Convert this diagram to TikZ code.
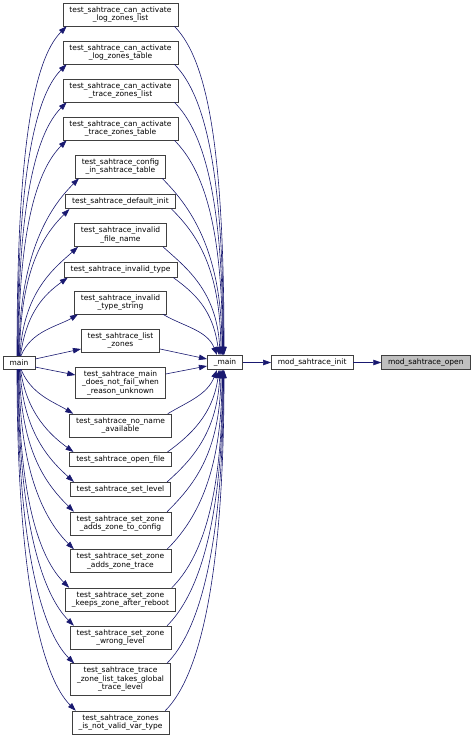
\documentclass[tikz,border=0pt]{standalone}
\usepackage{fontspec}
\setmainfont{DejaVu Sans}
\usetikzlibrary{arrows.meta,positioning}
\definecolor{edgeblue}{RGB}{25,25,112}
\definecolor{hlgray}{RGB}{191,191,191}

\begin{document}
\begin{tikzpicture}[x=1pt, y=1pt,
    fn/.style={draw=black!75, fill=white, line width=0.6pt, font=\fontsize{7.5}{8.5}\selectfont, align=center, inner xsep=6.5pt, inner ysep=3.5pt},
    edge/.style={draw=edgeblue, line width=0.6pt, -{Triangle[length=8pt,width=5.5pt]}}]
        \useasboundingbox (0,0) rectangle (474,-738);

        % Callers
        \node [fn] (main) at (19,-362.5) {main};
        \node [fn] (umain) at (225,-362.5) {\_main};

        % Tests above
        \node [fn] (logl) at (120.5,-14.5) {test\_sahtrace\_can\_activate\\\_log\_zones\_list};
        \node [fn] (logt) at (120.5,-52.5) {test\_sahtrace\_can\_activate\\\_log\_zones\_table};
        \node [fn] (tracel) at (120.5,-90.5) {test\_sahtrace\_can\_activate\\\_trace\_zones\_list};
        \node [fn] (tracet) at (120.5,-128.5) {test\_sahtrace\_can\_activate\\\_trace\_zones\_table};
        \node [fn] (config) at (120.5,-166.5) {test\_sahtrace\_config\\\_in\_sahtrace\_table};
        \node [fn] (definit) at (120.5,-201.5) {test\_sahtrace\_default\_init};
        \node [fn] (filename) at (120.5,-235) {test\_sahtrace\_invalid\\\_file\_name};
        \node [fn] (invtype) at (120.5,-270) {test\_sahtrace\_invalid\_type};
        \node [fn] (typestr) at (120.5,-302.5) {test\_sahtrace\_invalid\\\_type\_string};
        \node [fn] (listz) at (120.5,-340.5) {test\_sahtrace\_list\\\_zones};

        % Tests below
        \node [fn] (notfail) at (120.5,-383) {test\_sahtrace\_main\\\_does\_not\_fail\_when\\\_reason\_unknown};
        \node [fn] (noname) at (120.5,-425.5) {test\_sahtrace\_no\_name\\\_available};
        \node [fn] (openf) at (120.5,-459.5) {test\_sahtrace\_open\_file};
        \node [fn] (setlvl) at (120.5,-489.5) {test\_sahtrace\_set\_level};
        \node [fn] (zconfig) at (120.5,-523.5) {test\_sahtrace\_set\_zone\\\_adds\_zone\_to\_config};
        \node [fn] (ztrace) at (120.5,-561) {test\_sahtrace\_set\_zone\\\_adds\_zone\_trace};
        \node [fn] (reboot) at (120.5,-599.5) {test\_sahtrace\_set\_zone\\\_keeps\_zone\_after\_reboot};
        \node [fn] (wronglvl) at (120.5,-637.5) {test\_sahtrace\_set\_zone\\\_wrong\_level};
        \node [fn] (global) at (120.5,-679.5) {test\_sahtrace\_trace\\\_zone\_list\_takes\_global\\\_trace\_level};
        \node [fn] (vartype) at (120.5,-722.5) {test\_sahtrace\_zones\\\_is\_not\_valid\_var\_type};

        % Callees
        \node [fn, right=28pt of umain] (init) {mod\_sahtrace\_init};
        \node [fn, fill=hlgray, right=28pt of init] (open) {mod\_sahtrace\_open};

        % main to tests above
        \draw [edge] ([xshift=-2]main.north) .. controls +(0,197) and +(-35,-35) .. ([xshift=4]logl.south west);
        \draw [edge] ([xshift=-1.5]main.north) .. controls +(0,175) and +(-33,-33) .. ([xshift=4]logt.south west);
        \draw [edge] ([xshift=-1]main.north) .. controls +(0,152) and +(-31,-31) .. ([xshift=4]tracel.south west);
        \draw [edge] ([xshift=-0.5]main.north) .. controls +(0,129) and +(-29,-29) .. ([xshift=4]tracet.south west);
        \draw [edge] (main.north) .. controls +(0,106) and +(-27,-27) .. ([xshift=4]config.south west);
        \draw [edge] ([xshift=0.5]main.north) .. controls +(1,88) and +(-25,-25) .. ([xshift=4]definit.south west);
        \draw [edge] ([xshift=1]main.north) .. controls +(3,65) and +(-22,-20) .. ([xshift=4]filename.south west);
        \draw [edge] ([xshift=1.5]main.north) .. controls +(6,45) and +(-22,-16) .. ([xshift=4]invtype.south west);
        \draw [edge] ([xshift=2]main.north) .. controls +(10,25) and +(-20,-12) .. ([xshift=4]typestr.south west);
        \draw [edge] ([yshift=3.5]main.east) -- ([yshift=-8.5]listz.west);

        % main to tests below
        \draw [edge] ([yshift=-4.5]main.east) -- ([yshift=8]notfail.west);
        \draw [edge] ([xshift=2]main.south) .. controls +(10,-25) and +(-20,12) .. ([xshift=4]noname.north west);
        \draw [edge] ([xshift=1.5]main.south) .. controls +(6,-45) and +(-22,16) .. ([xshift=4]openf.north west);
        \draw [edge] ([xshift=1]main.south) .. controls +(3,-65) and +(-22,20) .. ([xshift=4]setlvl.north west);
        \draw [edge] ([xshift=0.5]main.south) .. controls +(1,-85) and +(-25,25) .. ([xshift=4]zconfig.north west);
        \draw [edge] (main.south) .. controls +(0,-107) and +(-27,27) .. ([xshift=4]ztrace.north west);
        \draw [edge] ([xshift=-0.5]main.south) .. controls +(0,-131) and +(-29,29) .. ([xshift=4]reboot.north west);
        \draw [edge] ([xshift=-1]main.south) .. controls +(0,-154) and +(-31,31) .. ([xshift=4]wronglvl.north west);
        \draw [edge] ([xshift=-1.5]main.south) .. controls +(0,-176) and +(-33,33) .. ([xshift=4]global.north west);
        \draw [edge] ([xshift=-2]main.south) .. controls +(0,-205) and +(-35,35) .. ([xshift=4]vartype.north west);

        % tests above to _main
        \draw [edge] ([xshift=-4]logl.south east) .. controls +(35,-35) and +(0,197) .. ([xshift=-1]umain.north);
        \draw [edge] ([xshift=-4]logt.south east) .. controls +(33,-33) and +(0,175) .. ([xshift=-1.5]umain.north);
        \draw [edge] ([xshift=-4]tracel.south east) .. controls +(31,-31) and +(0,152) .. ([xshift=-2]umain.north);
        \draw [edge] ([xshift=-4]tracet.south east) .. controls +(29,-29) and +(0,129) .. ([xshift=-2.5]umain.north);
        \draw [edge] ([xshift=-4]config.south east) .. controls +(27,-27) and +(0,106) .. ([xshift=-3]umain.north);
        \draw [edge] ([xshift=-4]definit.south east) .. controls +(25,-25) and +(-1,88) .. ([xshift=-4]umain.north);
        \draw [edge] ([xshift=-4]filename.south east) .. controls +(22,-20) and +(-3,65) .. ([xshift=-5]umain.north);
        \draw [edge] ([xshift=-4]invtype.south east) .. controls +(22,-16) and +(-6,45) .. ([xshift=-6]umain.north);
        \draw [edge] ([xshift=-4]typestr.south east) .. controls +(20,-12) and +(-10,25) .. ([xshift=-8]umain.north);
        \draw [edge] ([yshift=-8.5]listz.east) -- ([yshift=3.5]umain.west);

        % tests below to _main
        \draw [edge] ([yshift=9]notfail.east) -- ([yshift=-3.5]umain.west);
        \draw [edge] ([xshift=-4]noname.north east) .. controls +(20,12) and +(-10,-25) .. ([xshift=-8]umain.south);
        \draw [edge] ([xshift=-4]openf.north east) .. controls +(22,16) and +(-6,-45) .. ([xshift=-6]umain.south);
        \draw [edge] ([xshift=-4]setlvl.north east) .. controls +(22,20) and +(-3,-65) .. ([xshift=-5]umain.south);
        \draw [edge] ([xshift=-4]zconfig.north east) .. controls +(25,25) and +(-1,-85) .. ([xshift=-4]umain.south);
        \draw [edge] ([xshift=-4]ztrace.north east) .. controls +(27,27) and +(0,-107) .. ([xshift=-3]umain.south);
        \draw [edge] ([xshift=-4]reboot.north east) .. controls +(29,29) and +(0,-131) .. ([xshift=-2.5]umain.south);
        \draw [edge] ([xshift=-4]wronglvl.north east) .. controls +(31,31) and +(0,-154) .. ([xshift=-2]umain.south);
        \draw [edge] ([xshift=-4]global.north east) .. controls +(33,33) and +(0,-176) .. ([xshift=-1.5]umain.south);
        \draw [edge] ([xshift=-4]vartype.north east) .. controls +(35,35) and +(0,-205) .. ([xshift=-1]umain.south);

        % _main to callees
        \draw [edge] (umain) -- (init);
        \draw [edge] (init) -- (open);
    \end{tikzpicture}
\end{document}
